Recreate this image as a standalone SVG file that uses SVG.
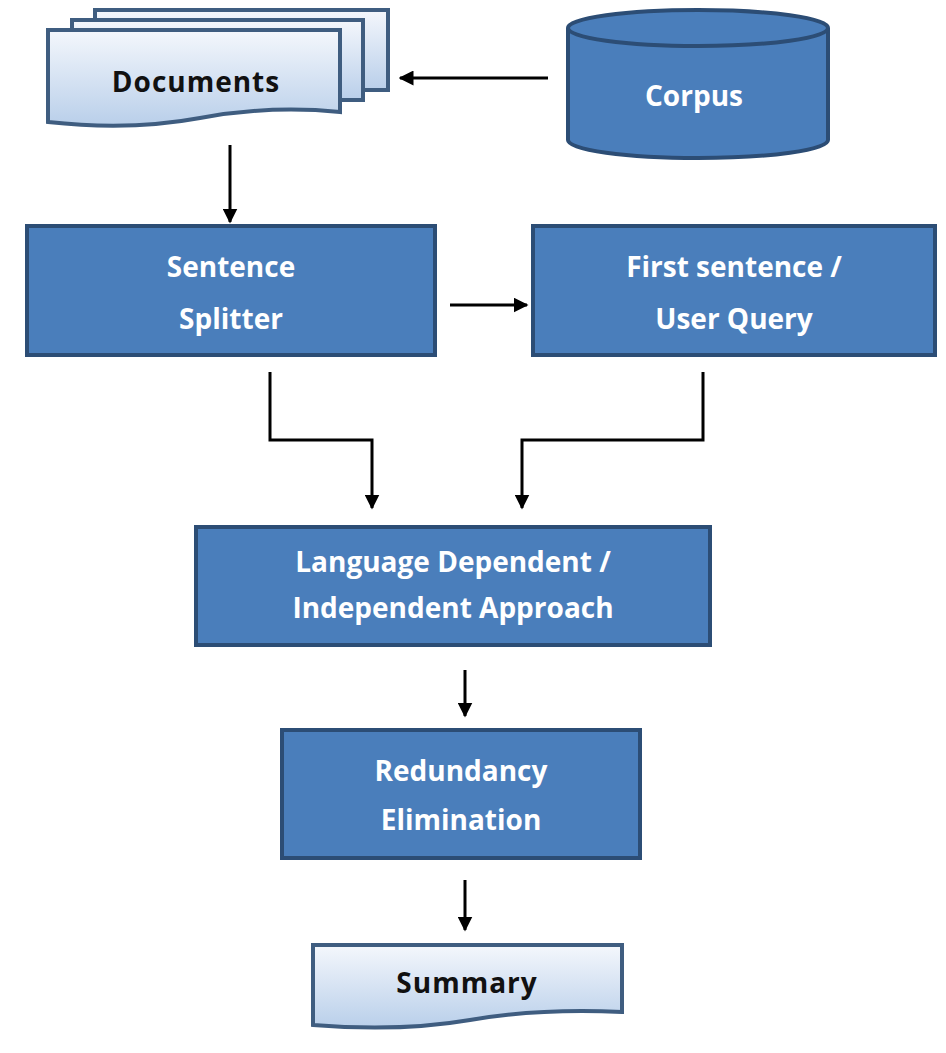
<svg xmlns="http://www.w3.org/2000/svg" width="946" height="1053" viewBox="0 0 946 1053">
<style>
.box{fill:#4a7ebb;stroke:#2c4d75;stroke-width:4}
.doc{fill:url(#g);stroke:#3f5d80;stroke-width:4}
.wt{fill:#fff;font-family:"Open Sans",sans-serif;font-weight:bold;font-size:28px;text-anchor:middle}
.bt{fill:#111;font-family:"Open Sans",sans-serif;font-weight:bold;font-size:28px;text-anchor:middle;letter-spacing:1px}
.ln{fill:none;stroke:#000;stroke-width:3}
</style>
<defs>
<linearGradient id="g" x1="0" y1="0" x2="0" y2="1"><stop offset="0" stop-color="#f4f7fc"/><stop offset="1" stop-color="#b9cfea"/></linearGradient>
<marker id="a" viewBox="0 0 10 10" refX="9" refY="5" markerWidth="5" markerHeight="5" orient="auto"><path d="M0,0L10,5L0,10z" fill="#000"/></marker>
</defs>
<g id="documents">
<path class="doc" d="M95,10H388V90H95z"/>
<path class="doc" d="M72,20H363V100H72z"/>
<path class="doc" d="M48,30H340V112Q270,105 200,118T48,122z"/>
<text class="bt" x="196" y="92">Documents</text>
</g>
<g id="corpus">
<path class="box" d="M568,28V140A130,18 0 0 0 828,140V28"/>
<ellipse class="box" cx="698" cy="28" rx="130" ry="18"/>
<text class="wt" x="694" y="106">Corpus</text>
</g>
<g id="splitter"><rect class="box" x="27" y="226" width="408" height="129"/>
<text class="wt" x="231" y="277">Sentence</text><text class="wt" x="231" y="329">Splitter</text></g>
<g id="first"><rect class="box" x="533" y="226" width="402" height="129"/>
<text class="wt" x="734" y="277">First sentence /</text><text class="wt" x="734" y="329">User Query</text></g>
<g id="language"><rect class="box" x="196" y="527" width="514" height="118"/>
<text class="wt" x="453" y="572">Language Dependent /</text><text class="wt" x="453" y="618">Independent Approach</text></g>
<g id="redundancy"><rect class="box" x="282" y="730" width="358" height="128"/>
<text class="wt" x="461" y="781">Redundancy</text><text class="wt" x="461" y="830">Elimination</text></g>
<g id="summary">
<path class="doc" d="M313,945H622V1012Q540,1008 470,1020T313,1025z"/>
<text class="bt" x="467" y="993">Summary</text>
</g>
<g id="connectors">
<path class="ln" marker-end="url(#a)" d="M548,78H400"/>
<path class="ln" marker-end="url(#a)" d="M230,145V222"/>
<path class="ln" marker-end="url(#a)" d="M450,305H527"/>
<path class="ln" marker-end="url(#a)" d="M270,372V440H372V508"/>
<path class="ln" marker-end="url(#a)" d="M703,372V440H522V508"/>
<path class="ln" marker-end="url(#a)" d="M465,670V716"/>
<path class="ln" marker-end="url(#a)" d="M465,880V930"/>
</g>
</svg>
